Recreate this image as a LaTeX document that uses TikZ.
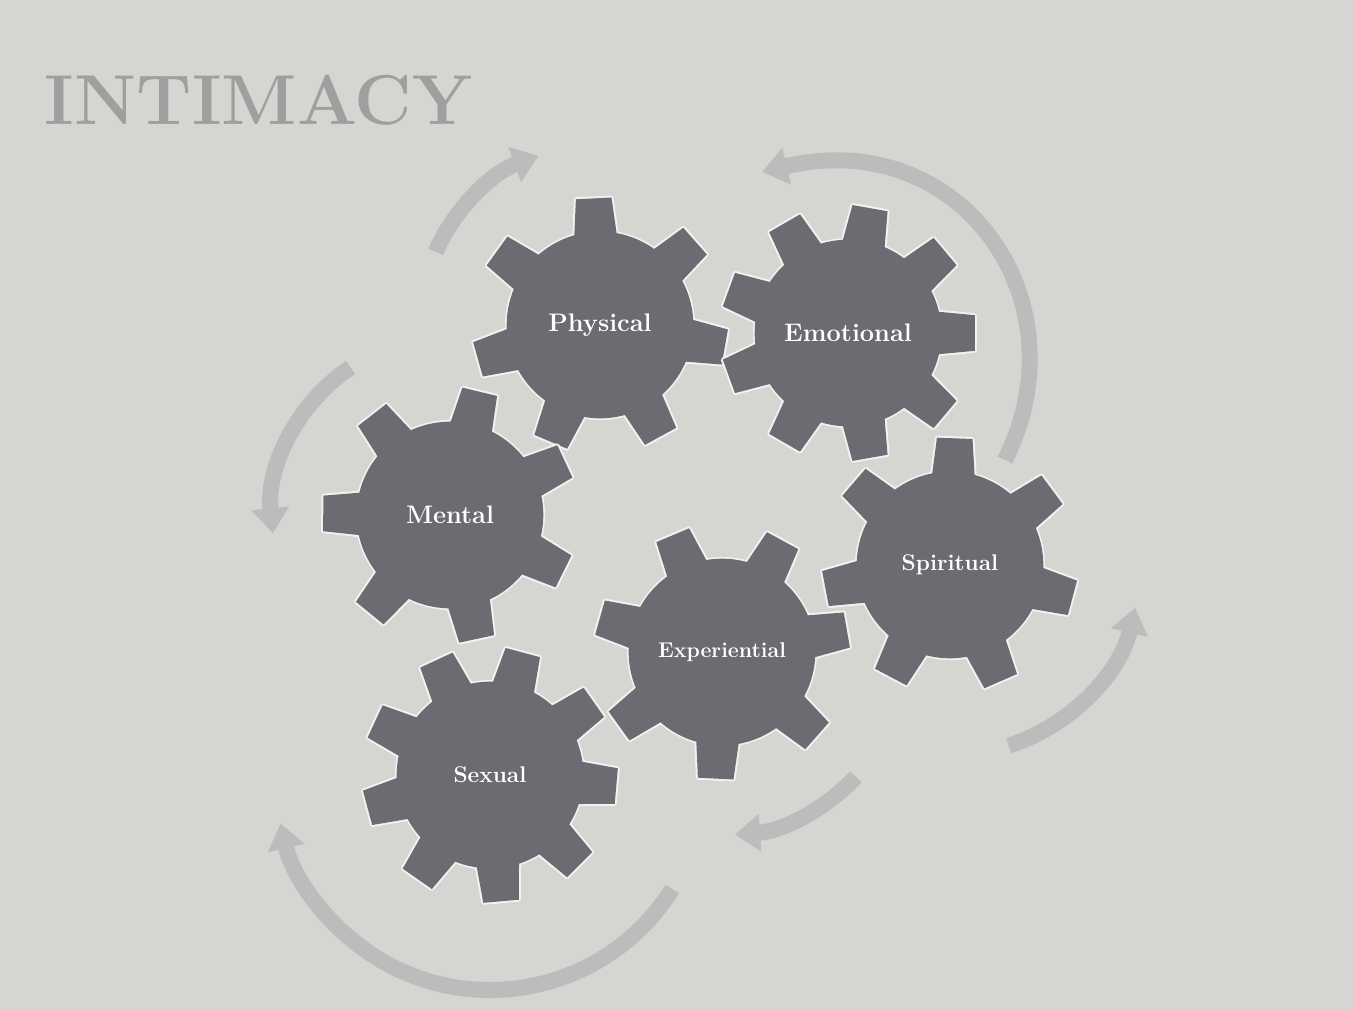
\documentclass[tikz,border=0pt]{standalone}
\usetikzlibrary{arrows.meta}
\definecolor{bgcol}{RGB}{214,213,209}
\definecolor{gearcol}{RGB}{107,107,114}
\definecolor{arccol}{RGB}{188,188,188}
\tikzset{every picture/.style={line width=0.75pt}}
\tikzset{
  gearedge/.style={draw=gray!10, line width=3pt, line join=round},
  gearfill/.style={fill=gearcol},
  gearbody/.style={circle, fill=gearcol, minimum size=140pt, text=white, font=\bfseries\fontsize{19}{22}\selectfont},
  arcarrow/.style={draw=arccol, line width=12pt, -{Triangle[width=27pt,length=19pt]}},
}
% gear: name, x, y, teeth, offset, label
\newcommand{\gear}[6]{%
  \begin{scope}[shift={(#2,#3)}]
    \draw[gearedge] (0,0) circle[radius=93];
    \foreach \k in {1,...,#4}{
      \pgfmathsetmacro{\a}{#5+360*\k/#4}
      \draw[gearedge] (\a-15:85) -- (\a-8:128) -- (\a+8:128) -- (\a+15:85) -- cycle;
    }
    \foreach \k in {1,...,#4}{
      \pgfmathsetmacro{\a}{#5+360*\k/#4}
      \fill[gearfill] (\a-15:85) -- (\a-8:128) -- (\a+8:128) -- (\a+15:85) -- cycle;
    }
  \end{scope}
  \node[gearbody] (#1) at (#2,#3) {#6};
}

\begin{document}
\begin{tikzpicture}[x=0.75pt,y=0.75pt,yscale=-1,xscale=1]
\fill[bgcol] (0,0) rectangle (1354,1010);
\useasboundingbox (0,0) rectangle (1354,1010);

% Title
\node[anchor=west, text=gray!75, font=\bfseries\fontsize{53}{53}\selectfont] (title) at (40,100) {INTIMACY};

% Gears
\gear{physical}{600}{325}{7}{10}{Physical}
\gear{emotional}{848}{333}{9}{0}{Emotional}
\gear{mental}{450}{515}{7}{-25}{Mental}
\gear{spiritual}{950}{565}{7}{15}{\fontsize{17}{20}\selectfont Spiritual}
\gear{experiential}{722}{652}{7}{-10}{\fontsize{16}{20}\selectfont Experiential}
\gear{sexual}{490}{775}{9}{5}{\fontsize{17}{20}\selectfont Sexual}

% Arrows
\draw[arcarrow] (physical.center) ++(204:180) arc[start angle=204, end angle=250, radius=180];
\draw[arcarrow] (1005,460) .. controls (1085,300) and (960,125) .. (762,172);
\draw[arcarrow] (mental.center) ++(236:178) arc[start angle=236, end angle=174, radius=178];
\draw[arcarrow] (spiritual.center) ++(72:190) arc[start angle=72, end angle=13, radius=190];
\draw[arcarrow] (experiential.center) ++(43:183) arc[start angle=43, end angle=86, radius=183];
\draw[arcarrow] (sexual.center) ++(32:215) arc[start angle=32, end angle=167, radius=215];
\end{tikzpicture}
\end{document}
